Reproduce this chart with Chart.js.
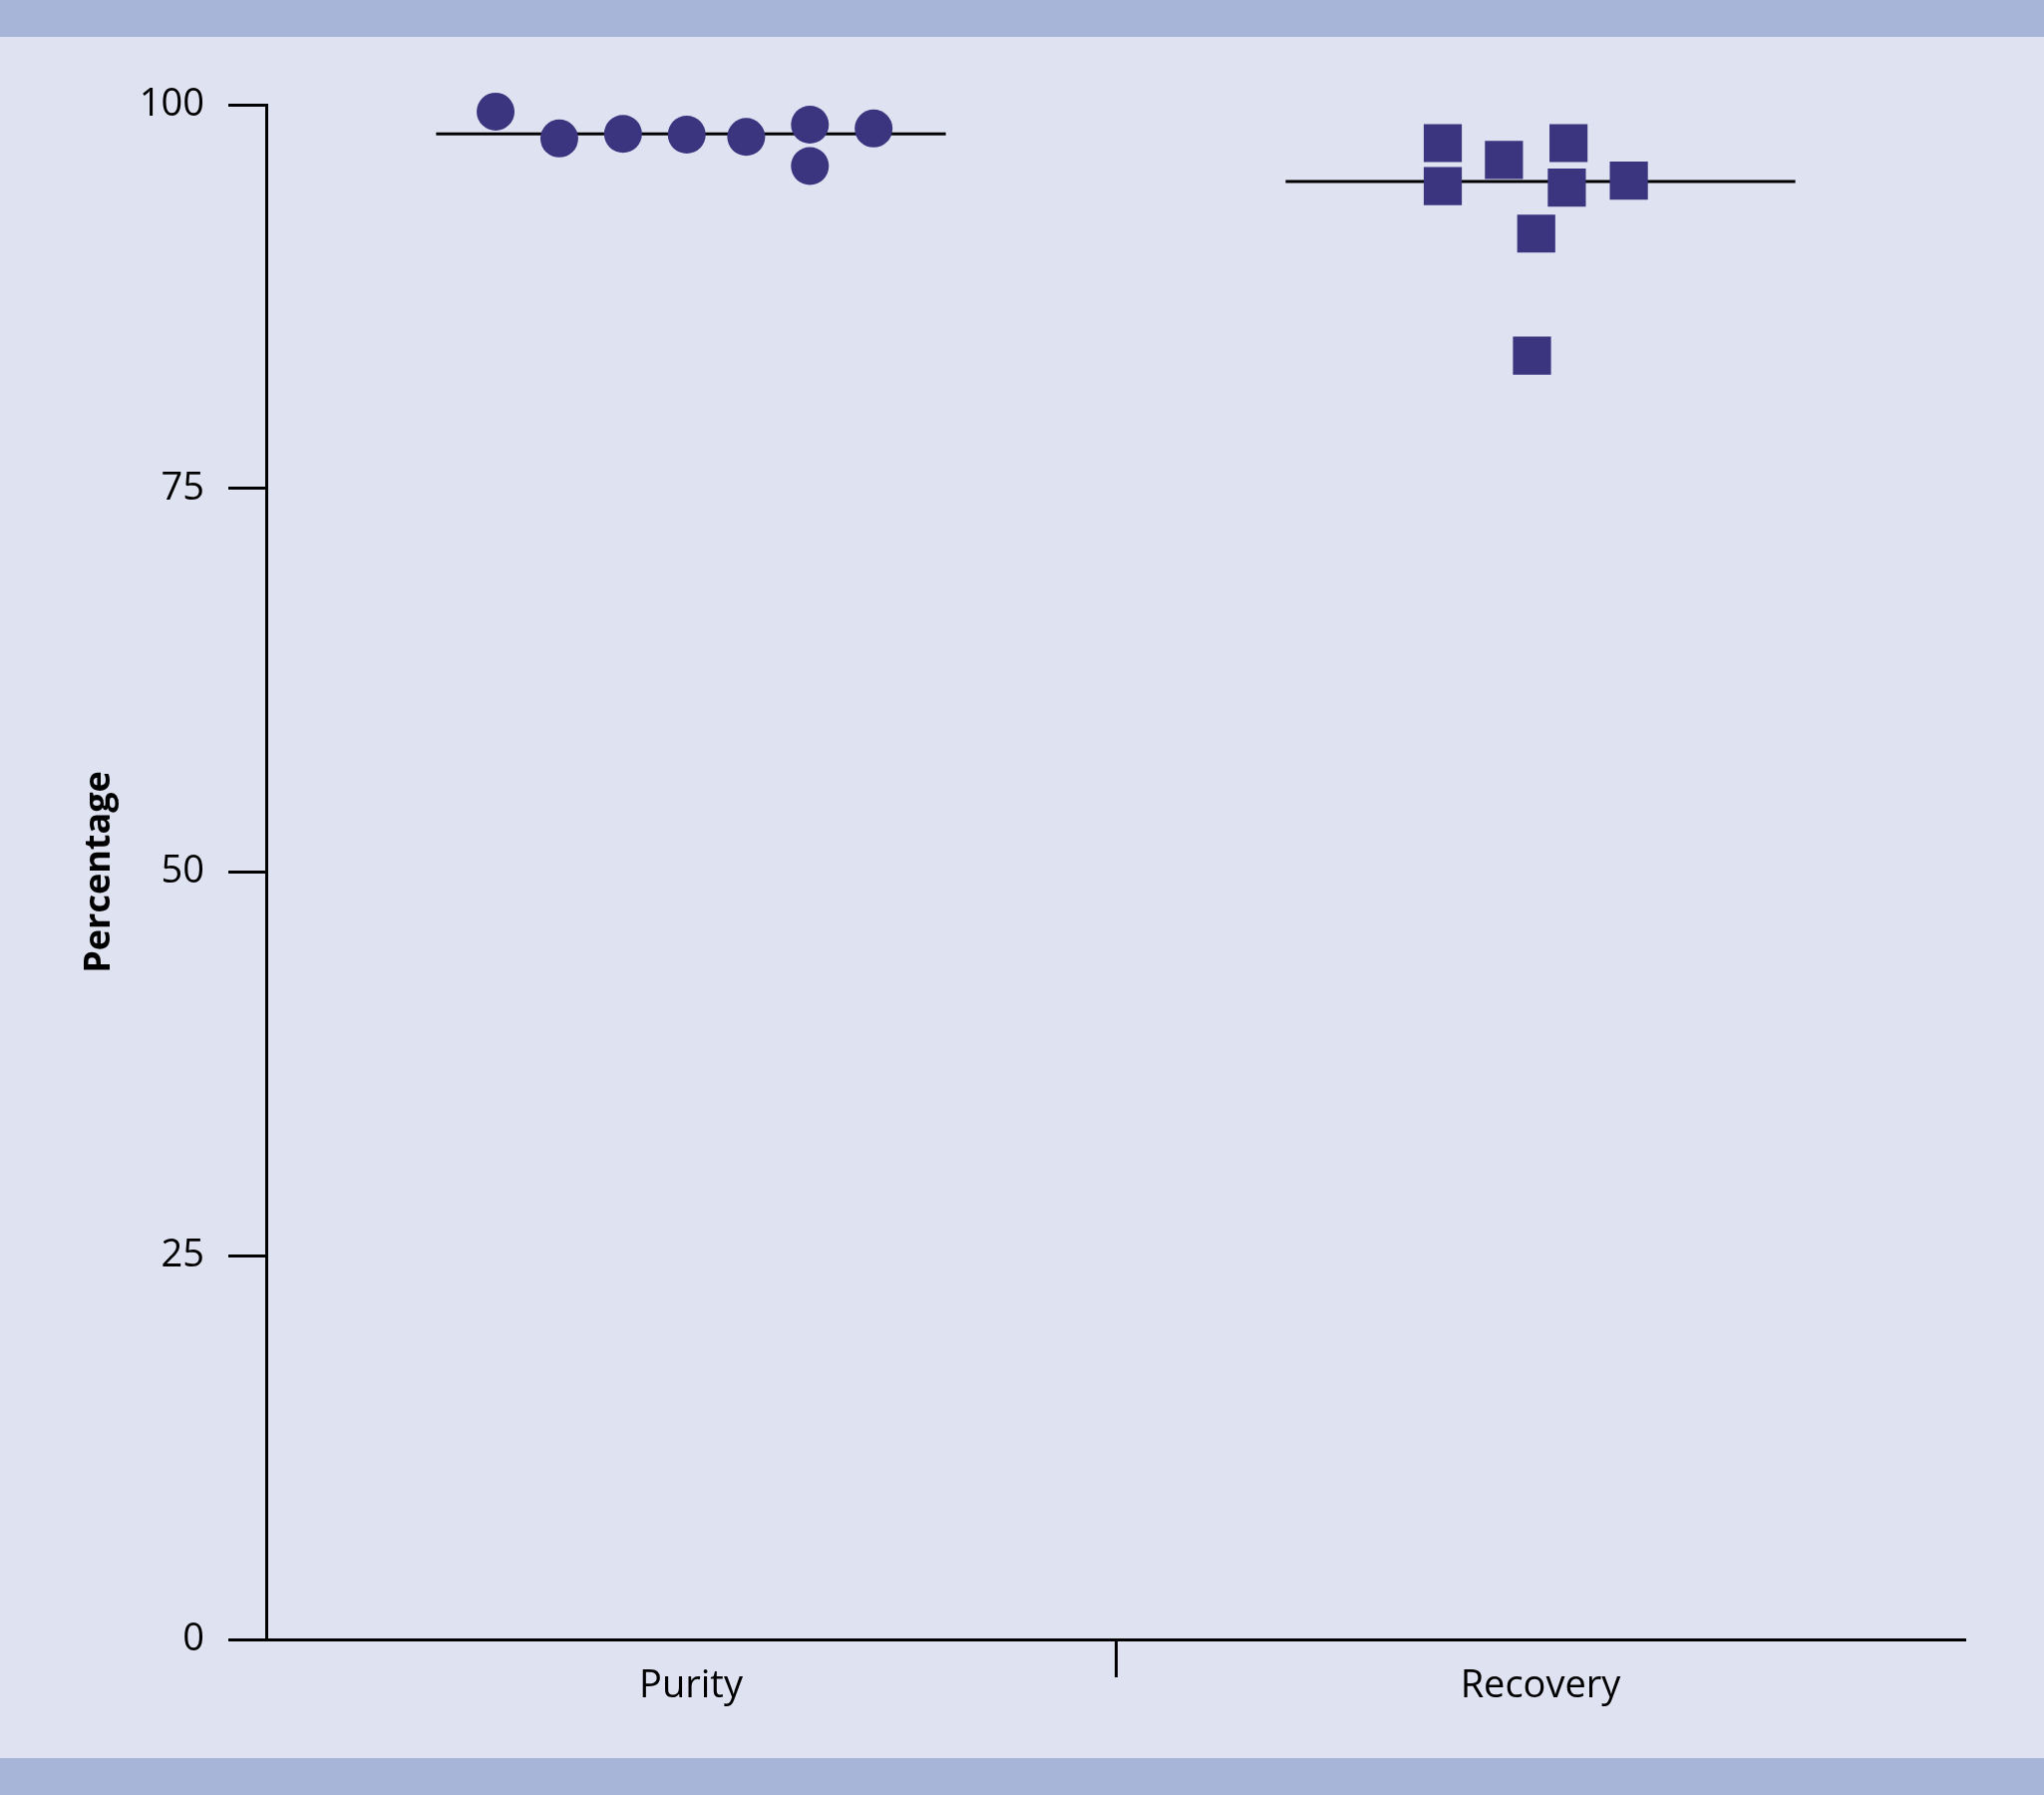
<!DOCTYPE html>
<html>
<head>
<meta charset="utf-8">
<script src="https://cdn.jsdelivr.net/npm/chart.js@4.4.1/dist/chart.umd.min.js"></script>
<style>
  html, body { margin: 0; padding: 0; background: #dfe2f1; }
  #wrap { width: 2050px; height: 1800px; position: relative; }
</style>
</head>
<body>
<div id="wrap"><canvas id="purityChart"></canvas></div>
<script>
// Values
const categories = ['Purity', 'Recovery'];
// horizontal jitter of each point around its category (0 = Purity, 1 = Recovery)
const purityX = [-0.23, -0.155, -0.08, -0.005, 0.065, 0.14, 0.14, 0.215];
const purityValues = [99.55, 97.8, 98.1, 98.05, 97.9, 98.7, 96.0, 98.45];
const recoveryX = [0.885, 0.885, 0.957, 1.033, 1.031, 1.104, 0.995, 0.99];
const recoveryValues = [97.5, 94.7, 96.4, 97.5, 94.6, 95.05, 91.6, 83.65];
const medianValues = [98.1, 95.0];
const medianHalfWidth = 0.3;
const yTicks = [0, 25, 50, 75, 100];
const xTicks = [0, 0.5, 1];

const markColor = '#3b3580';
const font = 'Open Sans';

const toPoints = (xs, ys) => xs.map((x, i) => ({ x: x, y: ys[i] }));
const medianLine = i => [
  { x: i - medianHalfWidth, y: medianValues[i] },
  { x: i + medianHalfWidth, y: medianValues[i] }
];

// page background with the two bands
const backdrop = {
  id: 'backdrop',
  beforeDraw(chart) {
    const { ctx, width, height } = chart;
    ctx.save();
    ctx.fillStyle = '#dfe2f1';
    ctx.fillRect(0, 0, width, height);
    ctx.fillStyle = '#a7b6d8';
    ctx.fillRect(0, 0, width, 37);
    ctx.fillRect(0, height - 37, width, 37);
    ctx.restore();
  }
};

const ctx = document.getElementById('purityChart').getContext('2d');

new Chart(ctx, {
  type: 'scatter',
  data: {
    datasets: [
      {
        label: 'Purity',
        data: toPoints(purityX, purityValues),
        pointStyle: 'circle',
        pointRadius: 19,
        backgroundColor: markColor,
        borderColor: markColor,
        borderWidth: 0,
        clip: false,
        order: 0
      },
      {
        label: 'Recovery',
        data: toPoints(recoveryX, recoveryValues),
        pointStyle: 'rect',
        pointRadius: 27,
        backgroundColor: markColor,
        borderColor: markColor,
        borderWidth: 0,
        clip: false,
        order: 0
      },
      {
        label: 'Purity median',
        data: medianLine(0),
        showLine: true,
        pointRadius: 0,
        borderColor: '#000000',
        borderWidth: 3,
        order: 1
      },
      {
        label: 'Recovery median',
        data: medianLine(1),
        showLine: true,
        pointRadius: 0,
        borderColor: '#000000',
        borderWidth: 3,
        order: 1
      }
    ]
  },
  options: {
    responsive: true,
    maintainAspectRatio: false,
    animation: false,
    layout: {
      padding: { left: 0, right: 79, top: 105, bottom: 0 }
    },
    plugins: {
      legend: { display: false },
      tooltip: { enabled: false }
    },
    scales: {
      x: {
        type: 'linear',
        min: -0.5,
        max: 1.5,
        afterBuildTicks: scale => {
          scale.ticks = xTicks.map(v => ({ value: v }));
        },
        afterFit: scale => {
          scale.height = 156;
        },
        border: { display: true, color: '#000000', width: 3 },
        grid: {
          drawOnChartArea: false,
          drawTicks: true,
          tickLength: 38,
          tickWidth: 3,
          tickColor: c => (c.tick && c.tick.value === 0.5 ? '#000000' : 'rgba(0,0,0,0)')
        },
        ticks: {
          autoSkip: false,
          maxRotation: 0,
          padding: -14,
          color: '#000000',
          font: { family: font, size: 38 },
          callback: value => {
            const i = categories.findIndex((c, idx) => idx === value);
            return i >= 0 ? categories[i] : '';
          }
        }
      },
      y: {
        min: 0,
        max: 100,
        afterBuildTicks: scale => {
          scale.ticks = yTicks.map(v => ({ value: v }));
        },
        afterFit: scale => {
          scale.width = 267;
        },
        border: { display: true, color: '#000000', width: 3 },
        grid: {
          drawOnChartArea: false,
          drawTicks: true,
          tickLength: 38,
          tickWidth: 3,
          tickColor: '#000000'
        },
        ticks: {
          padding: 24,
          color: '#000000',
          font: { family: font, size: 38 }
        },
        title: {
          display: true,
          text: 'Percentage',
          color: '#000000',
          padding: { top: 78, bottom: 0 },
          font: { family: font, size: 36, weight: 'bold' }
        }
      }
    }
  },
  plugins: [backdrop]
});
</script>
</body>
</html>
